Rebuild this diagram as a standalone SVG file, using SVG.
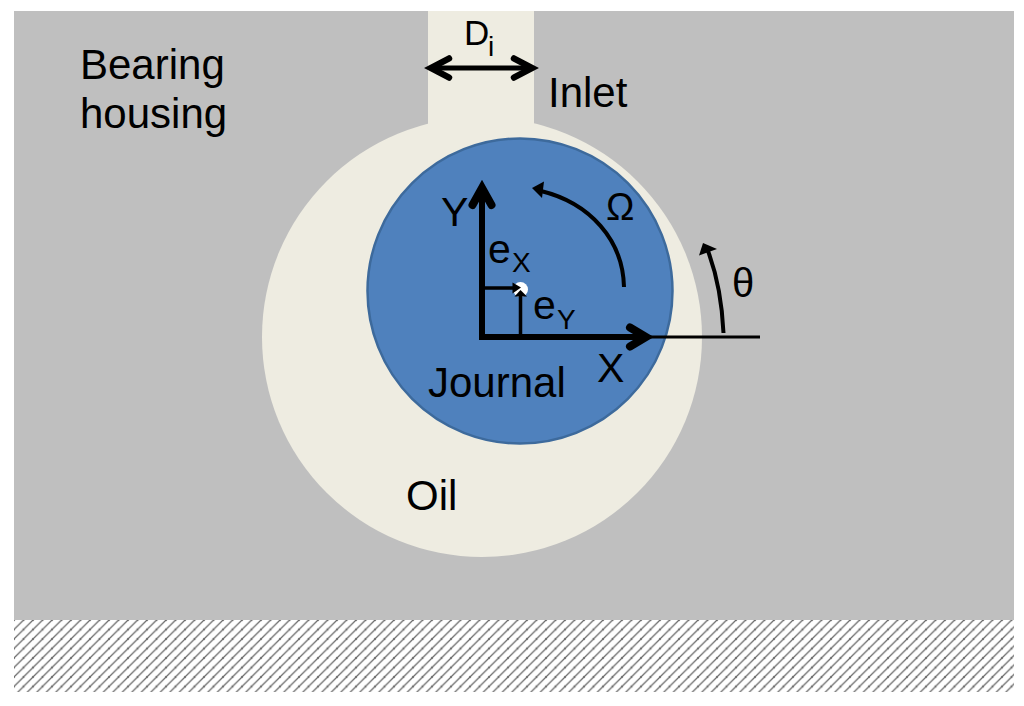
<svg xmlns="http://www.w3.org/2000/svg" width="1024" height="706" viewBox="0 0 1024 706">
<style>
text{font-family:"Liberation Sans",Arial,sans-serif;fill:#000}
.l{font-size:42px}
.ln{fill:none;stroke:#000;stroke-linecap:butt}
.head{fill:none;stroke:#000;stroke-linecap:round;stroke-linejoin:miter;stroke-miterlimit:6}
</style>
<defs>
<pattern id="hatch" width="9.5" height="9.5" patternUnits="userSpaceOnUse" x="14" y="620">
<rect width="9.5" height="9.5" fill="#fff"/>
<path d="M-1 10.5L10.5 -1M-2 2.5L2.5 -2M7 11.5L11.5 7" stroke="#666" stroke-width="1.2" fill="none"/>
</pattern>
</defs>
<rect width="1024" height="706" fill="#fff"/>
<g id="bearing-housing">
<rect x="14" y="11" width="1000" height="609" fill="#bfbfbf"/>
<text class="l" x="80" y="79">Bearing</text>
<text class="l" x="80" y="128">housing</text>
</g>
<g id="ground"><rect x="14" y="620" width="1000" height="72" fill="url(#hatch)"/></g>
<g id="oil">
<circle cx="482" cy="337" r="220" fill="#eeece1"/>
<rect x="428" y="11" width="106" height="125" fill="#eeece1"/>
<text class="l" x="406" y="510">Oil</text>
</g>
<g id="inlet">
<text class="l" x="548" y="107">Inlet</text>
<text x="464" y="45" style="font-size:35px">D</text>
<text x="488" y="56" style="font-size:28px">i</text>
</g>
<g id="journal">
<circle cx="520" cy="291" r="152.500" fill="#4f81bd" stroke="#3d6a9c" stroke-width="2.500"/>
<circle cx="520.500" cy="289.500" r="7.500" fill="#fff"/>
<text class="l" x="428" y="397">Journal</text>
</g>
<g id="connectors">
<path class="ln" d="M645 337H760" stroke-width="3"/>
<path class="ln" d="M482 337H646M482 340V190" stroke-width="6"/>
<path class="head" d="M630 327.500L646 337L630 346.500M472.500 205L482 188L491.500 205" stroke-width="8"/>
<path class="ln" d="M483 288H515M520.500 336V293" stroke-width="3.500"/>
<path d="M521 287.500L512.500 282.500V293.500Z" fill="#000"/>
<path d="M520.500 290L514.500 296.500H527Z" fill="#000"/>
<path class="ln" d="M624 287C623 240 590 203 541 191" stroke-width="4"/>
<path d="M532 188L544 181.500L542 198Z" fill="#000"/>
<path class="ln" d="M723.500 333C722 300 717 275 708 251" stroke-width="4"/>
<path d="M703 243L717 249L699 255.500Z" fill="#000"/>
<path class="ln" d="M436 68H528" stroke-width="5"/>
<path class="head" d="M449 58.500L431 68L449 77.500M514 58.500L532 68L514 77.500" stroke-width="6.500"/>
</g>
<g id="labels">
<text x="441" y="226" style="font-size:41px">Y</text>
<text x="488" y="263" style="font-size:41px">e</text>
<text x="512" y="272" style="font-size:28px">X</text>
<text x="533" y="319" style="font-size:41px">e</text>
<text x="557" y="329" style="font-size:28px">Y</text>
<text x="597" y="382" style="font-size:41px">X</text>
<text x="606" y="220" style="font-size:38px">Ω</text>
<text x="732" y="297" style="font-size:40px">θ</text>
</g>
</svg>
